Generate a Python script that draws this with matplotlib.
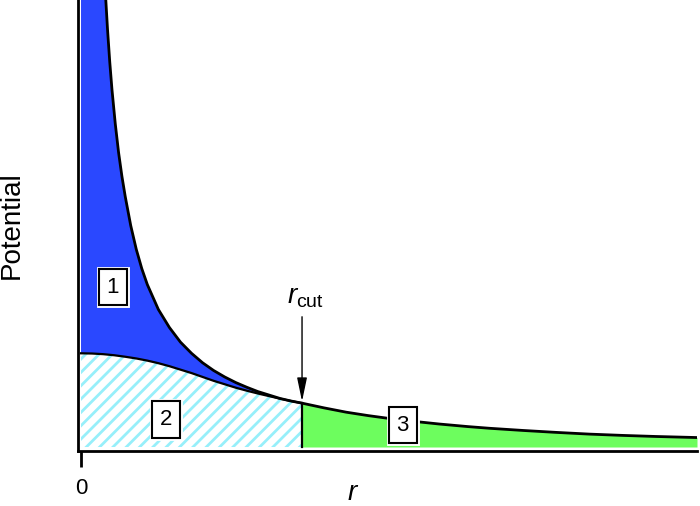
import numpy as np
import matplotlib
matplotlib.use('Agg')
import matplotlib.pyplot as plt
import matplotlib.patheffects as pe

# drawn at 80 dpi so the hatch spacing matches; K turns "100-dpi points" into points
DPI = 80
K = 100 / DPI

plt.rcParams['font.family'] = ['Liberation Sans', 'DejaVu Sans']
plt.rcParams['mathtext.fontset'] = 'custom'
plt.rcParams['mathtext.rm'] = 'Liberation Sans'
plt.rcParams['mathtext.it'] = 'Liberation Sans:italic'
plt.rcParams['hatch.linewidth'] = 2.0 * K

# total potential
r_total = [0.09, 0.1, 0.11, 0.12, 0.13, 0.14, 0.155, 0.17, 0.185, 0.2, 0.225,
           0.25, 0.275, 0.3, 0.35, 0.4, 0.45, 0.5, 0.55, 0.6, 0.65, 0.7, 0.75,
           0.8, 0.85, 0.9, 0.95, 1.0, 1.1, 1.2, 1.3, 1.4, 1.5, 1.62, 1.75,
           1.85, 2.0, 2.15, 2.3, 2.45, 2.6, 2.787]
v_total = [12.94, 11.65, 10.59, 9.71, 8.96, 8.32, 7.52, 6.85, 6.30, 5.83, 5.15,
           4.60, 4.15, 3.78, 3.20, 2.78, 2.44, 2.18, 1.96, 1.78, 1.63, 1.50, 1.39,
           1.29, 1.21, 1.13, 1.07, 1.02, 0.91, 0.81, 0.73, 0.66, 0.60, 0.535, 0.475,
           0.435, 0.385, 0.34, 0.30, 0.27, 0.245, 0.22]

# long-range (smooth) part, up to the cutoff
r_long = [0.0, 0.05, 0.1, 0.15, 0.2, 0.25, 0.3, 0.35, 0.4, 0.45, 0.5,
          0.55, 0.6, 0.65, 0.7, 0.75, 0.8, 0.85, 0.9, 0.95, 1.0]
v_long = [2.18, 2.175, 2.16, 2.135, 2.10, 2.06, 2.01, 1.95, 1.88, 1.80, 1.72,
          1.63, 1.54, 1.46, 1.38, 1.31, 1.245, 1.185, 1.125, 1.07, 1.02]

r_cut = 1.0
region_labels = ['1', '2', '3']
region_pos = [(0.143, 3.72), (0.385, 0.64), (1.455, 0.51)]

c_short = '#2a48ff'
c_tail = '#6dfd5e'
c_hatch = '#97effa'

r_total = np.array(r_total)
v_total = np.array(v_total)
r_long = np.array(r_long)
v_long = np.array(v_long)

fig = plt.figure(figsize=(700 / DPI, 506 / DPI), dpi=DPI)
ax = fig.add_axes([77.7 / 700, 55.3 / 506, 619.3 / 700, 450.7 / 506])

inner = r_total <= r_cut
outer = r_total >= r_cut

# region 1: between total and long-range part
poly_r = np.concatenate([[0.0], r_total[inner], r_long[::-1]])
poly_v = np.concatenate([[v_total[0]], v_total[inner], v_long[::-1]])
ax.fill(poly_r, poly_v, color=c_short, lw=0, zorder=1)

# region 2: long-range part, hatched
ax.fill_between(r_long, 0, v_long, facecolor='white', edgecolor=c_hatch,
                hatch='//', lw=0, zorder=1)

# region 3: tail beyond the cutoff
ax.fill_between(r_total[outer], 0, v_total[outer], color=c_tail, lw=0, zorder=1)

ax.plot(r_total, v_total, color='black', lw=2.0 * K, zorder=3)
ax.plot(r_long, v_long, color='black', lw=1.6 * K, zorder=3)
v_at_cut = v_total[np.argmin(np.abs(r_total - r_cut))]
ax.plot([r_cut, r_cut], [0, v_at_cut], color='black', lw=1.6 * K, zorder=3)

ax.annotate('', xy=(r_cut, v_at_cut + 0.04), xytext=(r_cut, 3.03),
            arrowprops=dict(arrowstyle='-|>,head_length=0.72,head_width=0.15',
                            color='black', lw=1.0 * K, shrinkA=0, shrinkB=0,
                            mutation_scale=20 * K), zorder=4)
ax.text(r_cut + 0.015, 3.35, r'$r_{\mathrm{cut}}$', fontsize=20 * K,
        ha='center', va='baseline')

for lab, (x, y) in zip(region_labels, region_pos):
    ax.text(x, y, lab, fontsize=16 * K, ha='center', va='center', zorder=5,
            bbox=dict(boxstyle='square,pad=0.35', fc='white', ec='black', lw=1.5 * K,
                      path_effects=[pe.withStroke(linewidth=3.5 * K, foreground='white')]))

ax.set_xlim(-0.015, 2.787)
ax.set_ylim(-0.086, 10.4)

for s in ['top', 'right']:
    ax.spines[s].set_visible(False)
for s in ['left', 'bottom']:
    ax.spines[s].set_linewidth(2.0 * K)

ax.set_xticks([0])
ax.set_xticklabels(['0'])
ax.set_yticks([])
ax.tick_params(axis='x', length=11.5 * K, width=2 * K, pad=8 * K, labelsize=16 * K)

ax.set_xlabel('r', fontsize=20 * K, fontstyle='italic')
ax.xaxis.set_label_coords(0.443, -0.064)
ax.set_ylabel('Potential', fontsize=20 * K)
ax.yaxis.set_label_coords(-0.085, 0.5)

fig.savefig('out.png', dpi=DPI)
